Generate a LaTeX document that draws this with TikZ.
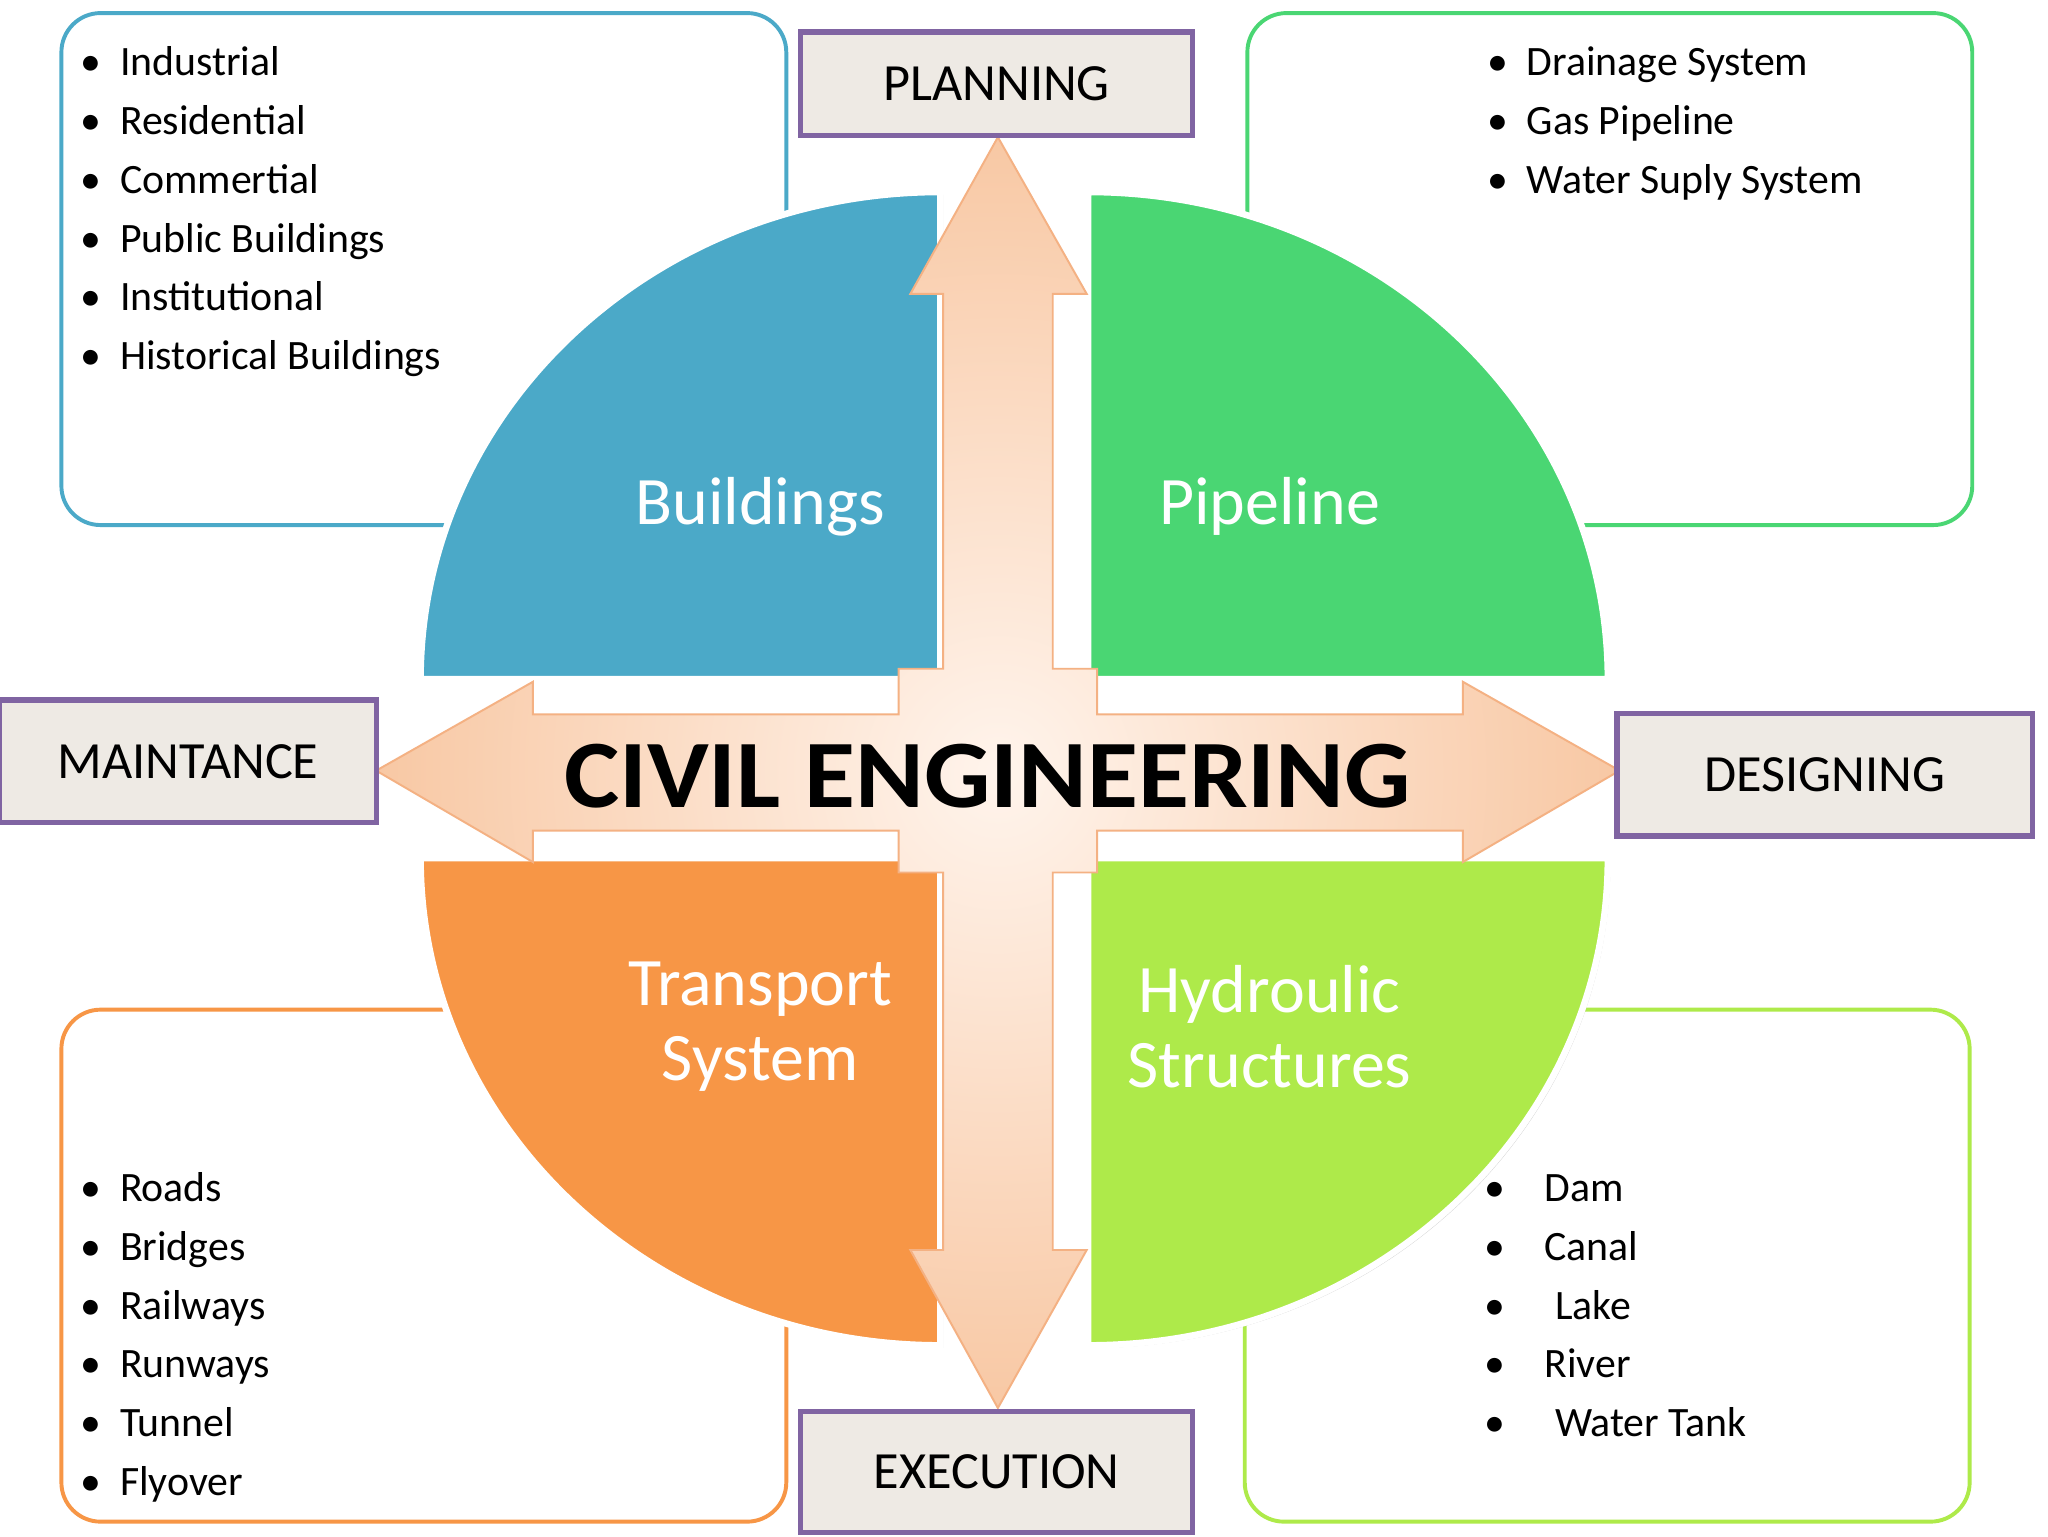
\documentclass[tikz,border=0pt]{standalone}
\usepackage{fontspec}
\setmainfont{Carlito}
\usetikzlibrary{shadows}
\definecolor{cblue}{HTML}{4BA9C8}
\definecolor{cgreen}{HTML}{4AD673}
\definecolor{corange}{HTML}{F79646}
\definecolor{clime}{HTML}{AEEA4A}
\definecolor{cpurple}{HTML}{8064A2}
\definecolor{cgrey}{HTML}{EEEAE4}
\definecolor{cpeach}{HTML}{F8C8A4}
\definecolor{cpeachl}{HTML}{FFF4EC}
\definecolor{cpeachs}{HTML}{F4B183}
\tikzset{
 listbox/.style={rounded corners=30pt,line width=3pt,fill=white},
 quad/.style={draw=white,line width=5pt,drop shadow={shadow xshift=2pt,shadow yshift=-2pt,opacity=.35}},
 qlabel/.style={text=white,font=\fontsize{52}{58}\selectfont,align=center},
 litem/.style={anchor=base west,font=\fontsize{32}{38}\selectfont},
 tag/.style={draw=cpurple,fill=cgrey,line width=4pt,font=\fontsize{40}{48}\selectfont},
}
\begin{document}
\begin{tikzpicture}[x=1pt,y=-1pt]
\useasboundingbox (0,0) rectangle (1568,1176);
\fill[white] (0,0) rectangle (1568,1176);
% list boxes
\draw[listbox,draw=cblue] (47,10) rectangle (602,402);
\draw[listbox,draw=cgreen] (955,10) rectangle (1510,402);
\draw[listbox,draw=corange] (47,773) rectangle (602,1165);
\draw[listbox,draw=clime] (953,773) rectangle (1508,1165);
% quadrants
\path[quad,fill=cblue] (720,520) -- (322,520) arc[start angle=180,end angle=270,x radius=398,y radius=373] -- cycle;
\path[quad,fill=cgreen] (833,520) -- (833,147) arc[start angle=270,end angle=360,x radius=398,y radius=373] -- cycle;
\path[quad,fill=corange] (720,657) -- (322,657) arc[start angle=180,end angle=90,x radius=398,y radius=373] -- cycle;
\path[quad,fill=clime] (833,657) -- (833,1030) arc[start angle=90,end angle=0,x radius=398,y radius=373] -- cycle;
\node[qlabel] (qb) at (582,388) {Buildings};
\node[qlabel] (qp) at (972,388) {Pipeline};
\node[qlabel] (qt) at (582,786) {Transport\\System};
\node[qlabel] (qh) at (972,786) {Hydroulic\\Structures};
% cross arrow
\path[draw=cpeachs,line width=1.5pt,inner color=cpeachl,outer color=cpeach]
 (764,105) -- (832,225) -- (806,225) -- (806,512) -- (840,512) -- (840,547) -- (1120,547) -- (1120,522) -- (1240,590) -- (1120,660) -- (1120,636) -- (840,636) -- (840,668) -- (806,668) -- (806,957) -- (832,957) -- (764,1078) -- (697,957) -- (722,957) -- (722,668) -- (688,668) -- (688,636) -- (408,636) -- (408,660) -- (288,590) -- (408,522) -- (408,547) -- (688,547) -- (688,512) -- (722,512) -- (722,225) -- (697,225) -- cycle;
\node[font=\bfseries\fontsize{74}{80}\selectfont,xscale=1.08] (ce) at (756,594) {CIVIL ENGINEERING};
% tags
\node[tag,minimum width=300pt,minimum height=79pt] (plan) at (763,64) {PLANNING};
\node[tag,minimum width=289pt,minimum height=94pt] (maint) at (144,583) {MAINTANCE};
\node[tag,minimum width=318pt,minimum height=94pt] (des) at (1397,593) {DESIGNING};
\node[tag,minimum width=300pt,minimum height=93pt] (exe) at (763,1127) {EXECUTION};
% lists
\foreach \t [count=\i from 0] in {Industrial,Residential,Commertial,Public Buildings,Institutional,Historical Buildings}
  \node[litem] (l\i) at (58,58+45*\i) {\textbullet\ \ \t};
\foreach \t [count=\i from 0] in {Drainage System,Gas Pipeline,Water Suply System}
  \node[litem] (r\i) at (1135,58+45*\i) {\textbullet\ \ \t};
\foreach \t [count=\i from 0] in {Roads,Bridges,Railways,Runways,Tunnel,Flyover}
  \node[litem] (b\i) at (58,920+45*\i) {\textbullet\ \ \t};
\foreach \t/\x [count=\i from 0] in {Dam/1184,Canal/1184,Lake/1192,River/1184,Water Tank/1192}{
  \node[litem] (d\i) at (1133,920+45*\i) {\textbullet};
  \node[litem] (e\i) at (\x-5,920+45*\i) {\t};}
\end{tikzpicture}
\end{document}
